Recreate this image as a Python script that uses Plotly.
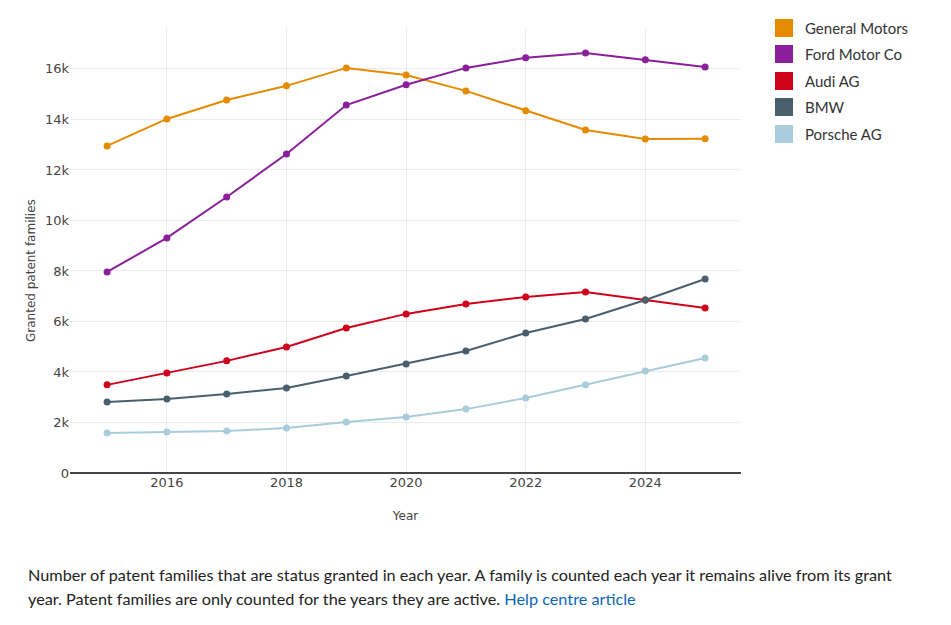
import plotly.graph_objects as go

years = [2015, 2016, 2017, 2018, 2019, 2020, 2021, 2022, 2023, 2024, 2025]
series_names = ["General Motors", "Ford Motor Co", "Audi AG", "BMW", "Porsche AG"]
gm = [12950, 14020, 14770, 15330, 16040, 15760, 15130, 14340, 13580, 13230, 13240]
ford = [7960, 9310, 10930, 12630, 14570, 15370, 16040, 16440, 16630, 16360, 16080]
audi = [3490, 3960, 4440, 4990, 5740, 6300, 6690, 6970, 7170, 6850, 6530]
bmw = [2810, 2930, 3130, 3370, 3840, 4320, 4830, 5540, 6100, 6850, 7680]
porsche = [1580, 1620, 1660, 1780, 2020, 2220, 2530, 2970, 3490, 4040, 4550]
values = [gm, ford, audi, bmw, porsche]
colors = ["#E68A00", "#8A1E9B", "#D0021B", "#4A5F6E", "#A8CCDC"]
y_ticks = [0, 2000, 4000, 6000, 8000, 10000, 12000, 14000, 16000]
y_tick_labels = ["0", "2k", "4k", "6k", "8k", "10k", "12k", "14k", "16k"]
x_ticks = [2016, 2018, 2020, 2022, 2024]
y_title = "Granted patent families"
x_title = "Year"
caption1 = ("Number of patent families that are status granted in each year. A family is counted each year it remains alive from its grant")
caption2 = "year. Patent families are only counted for the years they are active. "
link_text = "Help centre article"

W, H = 951, 625
ML, MR, MT, MB = 70, 210, 27, 152
PW, PH = W - ML - MR, H - MT - MB
AXFONT = "DejaVu Sans, Verdana"

def px_x(p):
    return (p - ML) / PW

def px_y(p):
    return (H - MB - p) / PH

fig = go.Figure()
for name, vals, col in zip(series_names, values, colors):
    fig.add_trace(go.Scatter(x=years, y=vals, name=name, mode="lines+markers",
                             line=dict(color=col, width=2),
                             marker=dict(color=col, size=7),
                             showlegend=False))

shapes = []
annotations = []
leg_y = [28, 54, 81, 107, 134]
for name, col, yc in zip(series_names, colors, leg_y):
    shapes.append(dict(type="rect", xref="paper", yref="paper",
                       x0=px_x(775), x1=px_x(793), y0=px_y(yc + 9), y1=px_y(yc - 9),
                       fillcolor=col, line=dict(width=0)))
    annotations.append(dict(text=name, xref="paper", yref="paper",
                            x=px_x(803), y=px_y(yc), xanchor="left", yanchor="middle",
                            showarrow=False, font=dict(family="Lato", size=15, color="#333333")))

annotations.append(dict(text=y_title, xref="paper", yref="paper", textangle=-90,
                        x=px_x(31), y=px_y(271), xanchor="center", yanchor="middle",
                        showarrow=False, font=dict(family=AXFONT, size=12, color="#444444")))

annotations.append(dict(text=caption1, xref="paper", yref="paper",
                        x=px_x(26), y=px_y(574), xanchor="left", yanchor="middle",
                        showarrow=False, font=dict(family="Lato", size=16.25, color="#222222")))
annotations.append(dict(text=caption2 + '<span style="color:#0A66B8">' + link_text + '</span>',
                        xref="paper", yref="paper",
                        x=px_x(26), y=px_y(598), xanchor="left", yanchor="middle",
                        showarrow=False, font=dict(family="Lato", size=16.25, color="#222222")))

fig.update_layout(
    width=W, height=H,
    margin=dict(l=ML, r=MR, t=MT, b=MB),
    paper_bgcolor="white", plot_bgcolor="white",
    font=dict(family=AXFONT, color="#444444"),
    shapes=shapes, annotations=annotations,
    xaxis=dict(range=[2014.38, 2025.6], tickvals=x_ticks, showgrid=True,
               gridcolor="#EBEBEB", zeroline=False, showline=False,
               tickfont=dict(family=AXFONT, size=13, color="#444444"),
               title=dict(text=x_title, font=dict(family=AXFONT, size=12, color="#444444"), standoff=22)),
    yaxis=dict(range=[0, 17660], tickvals=y_ticks, ticktext=y_tick_labels,
               showgrid=True, gridcolor="#EBEBEB", zeroline=True,
               zerolinecolor="#444444", zerolinewidth=1.5, showline=False,
               tickfont=dict(family=AXFONT, size=13, color="#444444"), ticks="", ticklen=0),
)

fig.write_html("out.html")
